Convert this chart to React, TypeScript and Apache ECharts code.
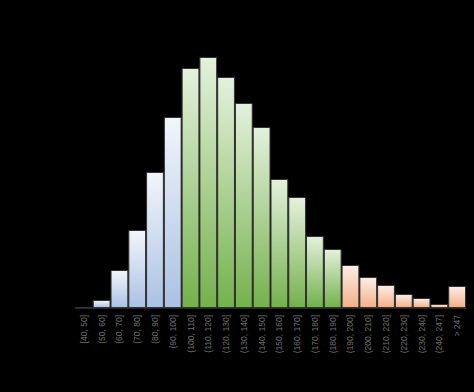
import React, { useEffect, useRef } from "react";
import * as echarts from "echarts";

// Histogram bins and counts
const binLabels = [
  "[40, 50]", "(50, 60]", "(60, 70]", "(70, 80]", "(80, 90]", "(90, 100]",
  "(100, 110]", "(110, 120]", "(120, 130]", "(130, 140]", "(140, 150]",
  "(150, 160]", "(160, 170]", "(170, 180]", "(180, 190]", "(190, 200]",
  "(200, 210]", "(210, 220]", "(220, 230]", "(230, 240]", "(240, 247]", "> 247",
];
const counts = [1, 8, 38, 78, 136, 191, 240, 251, 231, 205, 181, 129, 111, 72, 59, 43, 31, 23, 14, 10, 4, 22];
// Colour group of each bin: 0 = low, 1 = middle, 2 = high
const groups = [0, 0, 0, 0, 0, 0, 1, 1, 1, 1, 1, 1, 1, 1, 1, 2, 2, 2, 2, 2, 2, 2];

const gradientStops: [string, string][] = [
  ["#f2f5fb", "#abc1e4"],
  ["#e4f1dc", "#74b14c"],
  ["#fdeee4", "#f3b08a"],
];

export default function App() {
  const ref = useRef<HTMLDivElement>(null);

  useEffect(() => {
    if (!ref.current) return;
    const chart = echarts.init(ref.current, undefined, { renderer: "svg" });
    const data = counts.map((v, i) => {
      const [top, bottom] = gradientStops[groups[i]];
      return {
        value: v,
        itemStyle: {
          color: new echarts.graphic.LinearGradient(0, 0, 0, 1, [
            { offset: 0, color: top },
            { offset: 1, color: bottom },
          ]),
        },
      };
    });
    chart.setOption({
      animation: false,
      backgroundColor: "#000000",
      grid: { left: 75, right: 8, top: 8, bottom: 84, containLabel: false },
      xAxis: {
        type: "category",
        data: binLabels,
        axisLine: { show: true, lineStyle: { color: "#262626", width: 1 } },
        axisTick: { show: false },
        axisLabel: {
          rotate: 90,
          interval: 0,
          color: "#6e6e6e",
          fontSize: 8.5,
          fontFamily: "Liberation Sans",
          margin: 7,
        },
      },
      yAxis: {
        type: "value",
        min: 0,
        max: 300,
        show: false,
        splitLine: { show: false },
      },
      series: [
        {
          type: "bar",
          data,
          barCategoryGap: "0%",
          barWidth: "100%",
          itemStyle: { borderColor: "#333333", borderWidth: 1 },
        },
      ],
    });
    return () => chart.dispose();
  }, []);

  return (
    <div
      ref={ref}
      style={{ position: "fixed", left: 0, top: 0, width: 474, height: 392 }}
    />
  );
}
